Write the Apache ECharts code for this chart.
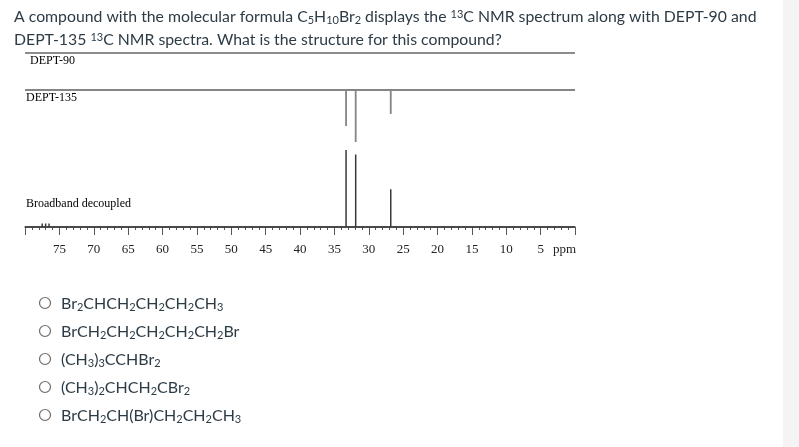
<!DOCTYPE html>
<html>
<head>
<meta charset="utf-8">
<script src="https://cdn.jsdelivr.net/npm/echarts@6/dist/echarts.min.js"></script>
<style>html,body{margin:0;padding:0;background:#fff;}#c{width:799px;height:447px;}</style>
</head>
<body>
<div id="c"></div>
<script>
// ---- data ----
const peakPpm = [33.3, 31.9, 26.8];
const broadbandInt = [100, 94, 49];
const dept135Int = [-69, -100, -46];
const dept90Ppm = [];
const dept90Int = [];
const solventPpm = [77.5, 77.0, 76.5];
const solventInt = [4.5, 4.5, 4.5];
const tickLabels = ['75','70','65','60','55','50','45','40','35','30','25','20','15','10','5'];
const questionLine1 = 'A compound with the molecular formula C{sub|5}H{sub|10}Br{sub|2} displays the {sup|13}C NMR spectrum along with DEPT-90 and';
const questionLine2 = 'DEPT-135 {sup|13}C NMR spectra. What is the structure for this compound?';
const options = [
  'Br{sub|2}CHCH{sub|2}CH{sub|2}CH{sub|2}CH{sub|3}',
  'BrCH{sub|2}CH{sub|2}CH{sub|2}CH{sub|2}CH{sub|2}Br',
  '(CH{sub|3}){sub|3}CCHBr{sub|2}',
  '(CH{sub|3}){sub|2}CHCH{sub|2}CBr{sub|2}',
  'BrCH{sub|2}CH(Br)CH{sub|2}CH{sub|2}CH{sub|3}'
];
const spectrumLabels = ['DEPT-90', 'DEPT-135', 'Broadband decoupled'];

// ---- build stick spectra ----
const PPM_MAX = 80, PPM_MIN = 0;
function sticks(ppms, ints) {
  const pk = ppms.map((p, i) => [p, ints[i]]).sort((a, b) => b[0] - a[0]);
  const pts = [[PPM_MAX, 0]];
  pk.forEach(([p, h]) => { pts.push([p, 0], [p, h], [p, 0]); });
  pts.push([PPM_MIN, 0]);
  return pts;
}

const chart = echarts.init(document.getElementById('c'), null, {renderer: 'canvas'});
const textColor = '#2d3b45';
const qFont = 'Lato';
const richQ = {
  sub: {fontFamily: qFont, fontSize: 11, verticalAlign: 'bottom', padding: [6, 0, 0, 0], fill: textColor, color: textColor},
  sup: {fontFamily: qFont, fontSize: 11, verticalAlign: 'top', padding: [0, 0, 6, 0], fill: textColor, color: textColor}
};

function xAx(idx, show) {
  return {
    gridIndex: idx, type: 'value', min: PPM_MIN, max: PPM_MAX, inverse: true, interval: 5,
    show: show,
    offset: show ? 5 : 0,
    axisLine: {show: show, lineStyle: {color: '#555', width: 1.5}},
    axisTick: {show: show, length: 8, lineStyle: {color: '#555', width: 1}},
    minorTick: {show: show, splitNumber: 5, length: 3, lineStyle: {color: '#555', width: 1}},
    splitLine: {show: false},
    axisLabel: {
      show: show, margin: 11, fontFamily: 'Liberation Serif', fontSize: 13, color: '#222',
      formatter: v => tickLabels.indexOf(String(v)) >= 0 ? String(v) : ''
    }
  };
}
function yAx(idx, min, max) {
  return {gridIndex: idx, type: 'value', min: min, max: max, show: false, splitLine: {show: false}};
}

const graphics = [
  {type: 'rect', shape: {x: 783, y: 0, width: 16, height: 447}, style: {fill: '#f4f4f4'}, silent: true},
  {type: 'text', x: 14, y: 17, style: {text: questionLine1, fontFamily: qFont, fontSize: 15.8, fill: textColor, verticalAlign: 'middle', rich: richQ}},
  {type: 'text', x: 14, y: 40, style: {text: questionLine2, fontFamily: qFont, fontSize: 15.8, fill: textColor, verticalAlign: 'middle', rich: richQ}},
  {type: 'text', x: 30, y: 61, style: {text: spectrumLabels[0], fontFamily: 'Liberation Serif', fontSize: 12, fill: '#000', verticalAlign: 'middle'}},
  {type: 'text', x: 26, y: 98, style: {text: spectrumLabels[1], fontFamily: 'Liberation Serif', fontSize: 12, fill: '#000', verticalAlign: 'middle'}},
  {type: 'text', x: 26, y: 204, style: {text: spectrumLabels[2], fontFamily: 'Liberation Serif', fontSize: 12, fill: '#000', verticalAlign: 'middle'}},
  {type: 'text', x: 553, y: 250, style: {text: 'ppm', fontFamily: 'Liberation Serif', fontSize: 13, fill: '#222', verticalAlign: 'middle'}}
];
options.forEach((t, i) => {
  const y = 303 + i * 28;
  graphics.push({type: 'circle', shape: {cx: 45, cy: y, r: 5.5}, style: {fill: '#fff', stroke: '#6b6b6b', lineWidth: 1.2}});
  graphics.push({type: 'text', x: 61, y: y + 1, style: {text: t, fontFamily: qFont, fontSize: 16, fill: textColor, verticalAlign: 'middle', rich: richQ}});
});

chart.setOption({
  animation: false,
  backgroundColor: '#fff',
  grid: [
    {left: 25, width: 550, top: 42, height: 11},
    {left: 25, width: 550, top: 90, height: 52},
    {left: 25, width: 550, top: 150, height: 77}
  ],
  xAxis: [xAx(0, false), xAx(1, false), xAx(2, true)],
  yAxis: [yAx(0, 0, 1), yAx(1, -100, 0), yAx(2, 0, 100)],
  series: [
    {type: 'line', xAxisIndex: 0, yAxisIndex: 0, data: sticks(dept90Ppm, dept90Int), showSymbol: false, symbol: 'none', clip: false,
     lineStyle: {color: '#8c8c8c', width: 2}},
    {type: 'line', xAxisIndex: 1, yAxisIndex: 1, data: sticks(peakPpm, dept135Int), showSymbol: false, symbol: 'none', clip: false,
     lineStyle: {color: '#858585', width: 1.8}},
    {type: 'line', xAxisIndex: 2, yAxisIndex: 2, data: sticks(peakPpm.concat(solventPpm), broadbandInt.concat(solventInt)), showSymbol: false, symbol: 'none', clip: false,
     lineStyle: {color: '#3a3a3a', width: 1.5}}
  ],
  graphic: graphics
});
</script>
</body>
</html>
